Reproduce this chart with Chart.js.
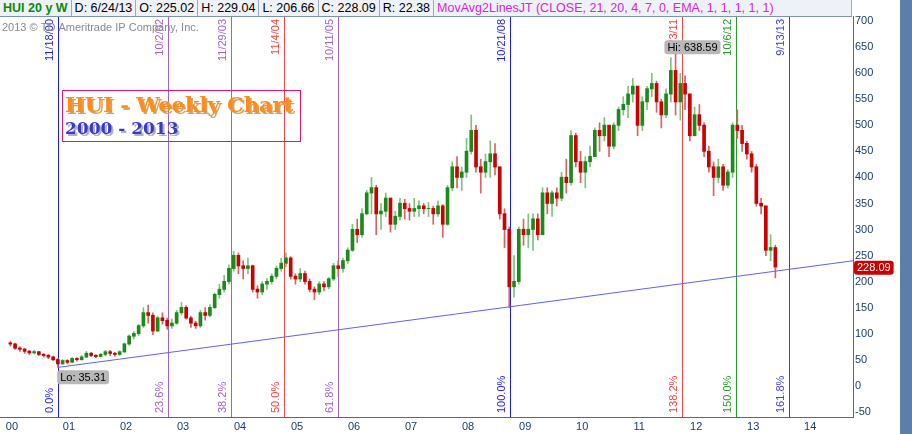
<!DOCTYPE html>
<html><head><meta charset="utf-8">
<script src="https://cdn.jsdelivr.net/npm/chart.js@4"></script>
<style>
body{margin:0;background:#fff;font-family:Arial,"Liberation Sans",sans-serif;overflow:hidden}
#wrap{position:absolute;left:0;top:0;width:900px;height:434px}
#hdr{position:absolute;left:0;top:0;width:852px;height:16px;background:#eef2f6;border-bottom:1px solid #7a94b4;display:flex;font-size:12.5px;line-height:16px;z-index:2}
#hdr div{border-right:1px solid #9aaac0;padding:0 3px;white-space:nowrap}
#side{position:absolute;left:900px;top:0;width:12px;height:434px;background:#5b7fa8}
</style></head><body>
<div id="wrap"><canvas id="c" width="900" height="434"></canvas></div>
<div id="hdr"><div style="color:#0a8a0a;font-weight:bold">HUI 20 y W</div><div>D: 6/24/13</div><div>O: 225.02</div><div>H: 229.04</div><div>L: 206.66</div><div>C: 228.09</div><div>R: 22.38</div><div style="color:#e020e0;flex:1">MovAvg2LinesJT (CLOSE, 21, 20, 4, 7, 0, EMA, 1, 1, 1, 1, 1)</div></div>
<div id="side"></div>
<script>
const startYear = 2000;
const closes = [80,72,70,66,63,65,60,58,55,50,42,48,
45,52,50,55,62,58,56,60,65,62,60,65,
80,95,100,115,140,135,105,130,125,115,120,140,
150,130,120,115,140,135,150,175,185,200,225,250,
230,225,230,185,180,195,200,210,225,235,245,210,
205,215,200,185,180,195,190,205,230,225,240,260,
300,290,330,370,380,330,335,360,310,325,350,340,
335,340,345,340,340,330,345,310,380,420,400,410,
450,490,420,410,430,445,420,330,300,190,200,300,
290,300,320,290,370,350,370,360,400,390,480,430,
410,430,440,490,480,500,460,500,530,540,560,575,
500,545,570,580,545,520,560,605,545,580,560,480,
520,500,450,420,400,420,385,410,500,490,465,445,
420,350,345,260,265,228];
const highs = [85,82,75,72,68,68,66,62,60,57,52,50,
50,54,54,58,66,64,60,62,68,68,64,67,
82,98,104,118,150,155,140,134,140,130,128,145,
160,154,134,124,145,150,156,178,195,212,232,258,
255,240,245,232,192,200,206,215,230,245,255,248,
215,225,220,205,190,200,200,208,235,240,245,265,
310,320,340,375,400,385,350,370,360,335,360,358,
350,360,355,350,352,345,355,348,385,430,440,420,
475,520,500,435,445,470,465,420,340,305,250,305,
320,330,330,330,380,380,375,380,410,435,490,485,
450,440,460,495,505,515,500,505,535,555,575,590,
575,555,575,600,585,550,570,630,638,600,595,560,
535,540,505,460,430,435,425,415,505,530,500,470,
450,425,360,345,290,270];
const lows = [76,70,66,62,60,61,58,55,52,48,35,41,
42,44,47,49,54,56,54,55,57,58,57,58,
64,78,90,96,112,120,98,104,118,108,110,118,
136,128,112,110,112,126,132,148,168,180,195,220,
215,205,215,180,168,175,185,195,205,220,228,205,
195,200,195,180,165,175,182,186,202,210,218,235,
258,275,285,328,330,290,300,325,295,300,318,320,
318,325,325,330,325,310,325,285,308,375,380,375,
400,445,410,370,400,400,405,320,265,150,170,195,
270,265,260,280,290,330,325,345,355,370,385,420,
390,380,420,440,450,470,440,455,490,520,515,545,
480,490,530,555,525,495,515,545,520,510,530,470,
480,490,440,410,365,390,375,380,400,475,450,435,
410,345,330,250,240,207];
const firstOpen = 82;
const yearLabels = ["00","01","02","03","04","05","06","07","08","09","10","11","12","13","14"];
const vlineDates = [2000.88,2002.81,2003.91,2004.84,2005.78,2008.80,2011.82,2012.76,2013.70];
const vlineText = ["11/18/00","10/2/02","11/29/03","11/4/04","10/11/05","10/21/08","10/3/11","10/6/12","9/13/13"];
const vlinePct = ["0.0%","23.6%","38.2%","50.0%","61.8%","100.0%","138.2%","150.0%","161.8%"];
const vlineColors = ["#1a1aff","#a060d8","#a060d8","#ff4040","#a060d8","#1a1aff","#ff4040","#22a022","#3a3aff"];
const trendX = [2000.88,2014.82];
const trendY = [35.31,240];

const xs = closes.map((c,i)=>startYear+(i+0.5)/12);
const opens = closes.map((c,i)=> i===0?firstOpen:closes[i-1]);
const up = closes.map((c,i)=>c>=opens[i]);
const wick = xs.map((x,i)=>({x, y:[lows[i],highs[i]]}));
const body = xs.map((x,i)=>({x, y:[Math.min(opens[i],closes[i]),Math.max(opens[i],closes[i])+0.5]}));

const overlay = {
  id:'overlay',
  beforeDatasetsDraw(ch){
    const {ctx, chartArea:a, scales:{x}} = ch;
    ctx.save();
    vlineDates.forEach((d,i)=>{
      const px=Math.round(x.getPixelForValue(d))+0.5;
      ctx.strokeStyle=vlineColors[i]; ctx.lineWidth=1;
      ctx.beginPath(); ctx.moveTo(px,a.top); ctx.lineTo(px,a.bottom); ctx.stroke();
      ctx.fillStyle=vlineColors[i]; ctx.font='11px Arial';
      ctx.save(); ctx.translate(px-3,a.top+3); ctx.rotate(-Math.PI/2);
      ctx.textAlign='right'; ctx.textBaseline='bottom'; ctx.fillText(vlineText[i],0,0); ctx.restore();
      ctx.save(); ctx.translate(px-3,a.bottom-4); ctx.rotate(-Math.PI/2);
      ctx.textAlign='left'; ctx.textBaseline='bottom'; ctx.fillText(vlinePct[i],0,0); ctx.restore();
    });
    ctx.fillStyle='#8a8a8a'; ctx.font='11px Arial'; ctx.textAlign='left'; ctx.textBaseline='middle';
    ctx.fillText('2013 © TD Ameritrade IP Company, Inc.',2,a.top+12);
    ctx.strokeStyle='#ee1177'; ctx.lineWidth=1; ctx.strokeRect(62.5,90.5,238,51);
    ctx.font='bold 21px "DejaVu Serif",serif'; ctx.textBaseline='alphabetic';
    ctx.fillStyle='#d9a060'; ctx.fillText('HUI - Weekly Chart',67,114);
    ctx.fillStyle='#ff8c1a'; ctx.fillText('HUI - Weekly Chart',65,112);
    ctx.font='bold 17px "DejaVu Serif",serif';
    ctx.fillStyle='#b0b0c8'; ctx.fillText('2000 - 2013',67,136);
    ctx.fillStyle='#3a3ac8'; ctx.fillText('2000 - 2013',65,134);
    ctx.restore();
  },
  afterDraw(ch){
    const {ctx, chartArea:a, scales:{x,y}} = ch;
    ctx.save();
    function box(t,bx,by,bg,fg){
      ctx.font='11px Arial'; const w=ctx.measureText(t).width+6;
      ctx.fillStyle=bg; ctx.beginPath(); ctx.roundRect(bx,by,w,14,3); ctx.fill();
      ctx.fillStyle=fg; ctx.textAlign='left'; ctx.textBaseline='middle'; ctx.fillText(t,bx+3,by+7.5);
    }
    box('Lo: 35.31',x.getPixelForValue(2000.88)-1,y.getPixelForValue(35.31)+3,'#b8b8b8','#000');
    box('Hi: 638.59',x.getPixelForValue(2011.6)-5,y.getPixelForValue(638.59)-13,'#b8b8b8','#000');
    box('228.09',a.right+1,y.getPixelForValue(238)-1,'#cc0000','#fff');
    ctx.restore();
  }
};

new Chart(document.getElementById('c'),{
  type:'bar',
  data:{datasets:[
    {data:wick,backgroundColor:up.map(u=>u?'#7cc47c':'#e06060'),barThickness:1,grouped:false,order:2},
    {data:body,backgroundColor:up.map(u=>u?'#1a8a1a':'#cc0000'),barThickness:3,grouped:false,order:1},
    {type:'line',data:trendX.map((t,i)=>({x:t,y:trendY[i]})),borderColor:'#6060ff',borderWidth:1,pointRadius:0,order:0}
  ]},
  options:{
    responsive:false,animation:false,
    layout:{padding:{top:16,left:0,right:0,bottom:0}},
    plugins:{legend:{display:false},tooltip:{enabled:false}},
    scales:{
      x:{type:'linear',min:1999.86,max:2014.82,offset:false,
        grid:{display:false,drawTicks:false},border:{color:'#4a6a94'},
        afterBuildTicks(s){s.ticks=yearLabels.map((l,i)=>({value:startYear+i+0.07}));},
        afterFit(s){s.height=17;},
        ticks:{autoSkip:false,maxRotation:0,padding:3,color:'#1a3d6e',font:{size:11,family:'Arial'},
          callback:(v,i)=>yearLabels[i]}},
      y:{position:'right',min:-60,max:710,
        grid:{display:false,drawTicks:false},border:{color:'#4a6a94'},
        afterBuildTicks(s){const t=[];for(let v=-50;v<=700;v+=50)t.push({value:v});s.ticks=t;},
        afterFit(s){s.width=47;},
        ticks:{padding:2,color:'#1a3d6e',font:{size:11,family:'Arial'}}}
    }
  },
  plugins:[overlay]
});
</script></body></html>
